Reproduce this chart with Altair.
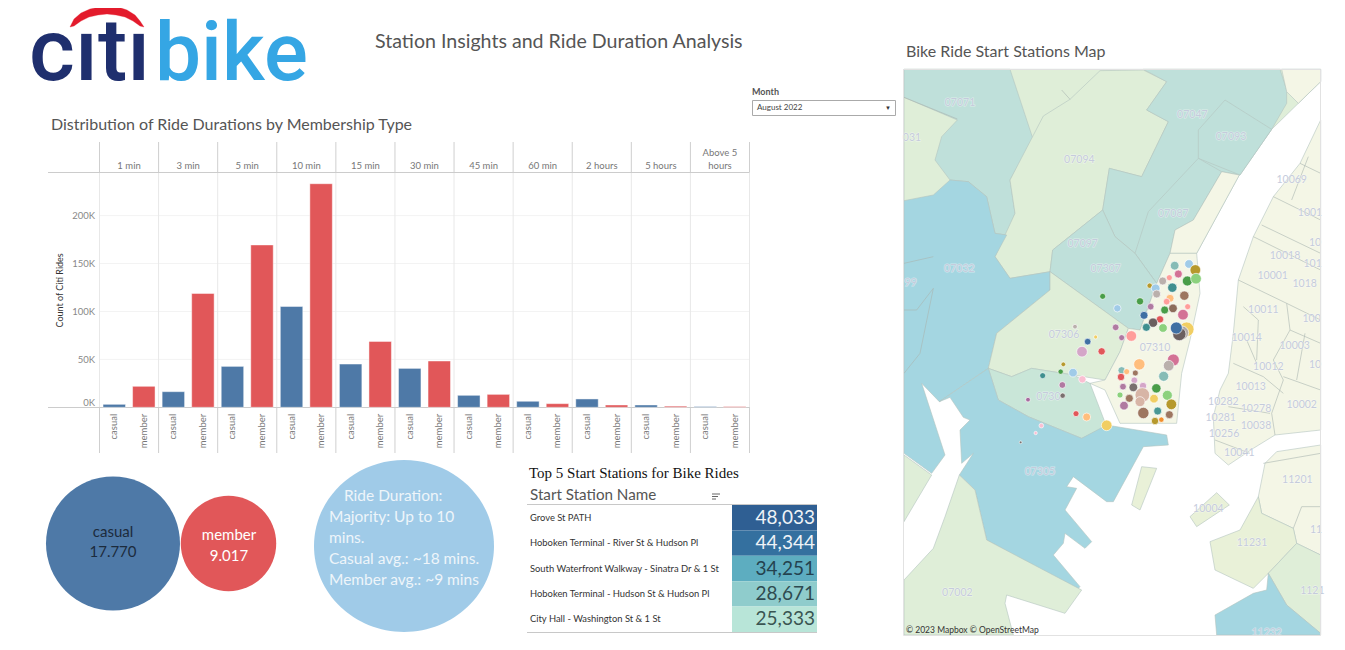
import altair as alt

FONT = "Lato"
W, H = 1329, 634
def px(v): return v - 8
def py(v): return v - 8

# ---- bar chart ----
durations = ["1 min","3 min","5 min","10 min","15 min","30 min","45 min","60 min","2 hours","5 hours","Above 5 hours"]
casual_counts = [3100,16300,42700,105200,45100,40600,12500,6250,8700,2400,800]
member_counts = [21900,118750,169400,233300,68750,48300,13500,3800,2400,1200,800]
y_ticks = [0,50000,100000,150000,200000]

# ---- bubbles ----
bubble_types = ["casual","member"]
bubble_avgs = [17.77,9.017]

# ---- table ----
stations = ["Grove St PATH","Hoboken Terminal - River St & Hudson Pl","South Waterfront Walkway - Sinatra Dr & 1 St",
            "Hoboken Terminal - Hudson St & Hudson Pl","City Hall - Washington St & 1 St"]
station_rides = [48033,44344,34251,28671,25333]
cell_colors = ["#b8e5d8","#8fcccc","#5dadc0","#34709f","#2f5f93"]

# ---- map stations (crop units, 3 per pixel) ----
st_x = [464,507,526,475,502,528,448,428,457,389,407,410,493,450,440,360,248,292,392,503,434,459,489,372,420,399,379,429,500,486,478,469,
        287,305,334,165,227,203,186,245,130,122,159,187,68,127,128,24,168,200,260,64,47,2,
        460,446,358,431,305,320,346,303,343,309,369,340,409,300,442,367,360,402,328,454,312,370,413,448,405,424]
st_y = [47,42,60,72,93,86,83,93,113,107,115,132,137,145,155,154,139,175,170,170,180,175,194,196,208,218,232,234,238,248,252,234,
        232,263,258,230,261,275,305,304,343,365,368,388,377,405,437,449,491,501,526,527,549,577,
        330,347,343,379,361,365,369,381,391,410,408,412,415,435,436,435,455,446,445,463,467,489,483,494,513,509]
st_r = [13,13,16,12,15,16,9,12,14,8,13,12,14,12,10,11,9,11,10,9,12,13,16,12,11,14,12,13,22,20,20,18,
        10,9,16,7,6,10,16,11,7,8,13,11,9,10,8,7,9,12,16,7,5,4,
        18,16,17,15,11,9,9,11,10,10,11,13,14,9,15,22,15,13,12,16,13,17,12,12,11,8]
st_c = ["#86bcb6","#a0cbe8","#b6992d","#d37295","#499d48","#8cd17d","#ff9d9a","#bab0ac","#3f8f8f","#b6992d","#a0cbe8","#bab0ac","#9d7660","#ffbe7d","#ff9d9a","#499d48","#499d48","#a0cbe8","#b07aa1","#ff9d9a","#499d48","#8c6d5a","#d37295","#3f6fa3","#e15759","#6b5f5f","#3f8f8f","#8cd17d","#f1ce63","#b0a8a4","#6b5f5f","#3f6fa3",
        "#b07aa1","#b07aa1","#ff9d9a","#bab0ac","#f1ce63","#3f6fa3","#d4a6c8","#e15759","#b6992d","#499d48","#a0cbe8","#fabfd2","#3f8f8f","#b07aa1","#79706e","#a76b9f","#e15759","#ffbe7d","#f1ce63","#fabfd2","#fabfd2","#79706e",
        "#d37295","#bab0ac","#ffbe7d","#86bcb6","#86bcb6","#ffbe7d","#9d7660","#e15759","#d4a6c8","#b07aa1","#d4a6c8","#79706e","#499d48","#8cd17d","#8cd17d","#d7b5a6","#d7b5a6","#f1ce63","#9d7660","#b6992d","#b07aa1","#9d7660","#499894","#9d7660","#b6992d","#f28e2b"]

# ---- map zones (crop units, 3 per pixel) ----
GREEN, TEAL, BLUE, CREAM, MINT, PALE = "#dfeed8","#bfe0da","#a4d6e1","#f4f6e6","#c9e6d8","#e9f1d8"
zones = [
 (GREEN, [(12,88),(1262,88),(1262,125),(1195,190),(1115,268),(1018,405),(890,640),(810,640),(720,870),(660,930),(300,1000),(12,1000)]),
 (TEAL, [(12,88),(330,88),(400,300),(330,420),(345,520),(320,585),(285,580),(260,470),(205,425),(150,420),(105,360),(125,290),(172,240),(12,172)]),
 (GREEN, [(510,178),(600,92),(730,90),(800,125),(740,210),(805,245),(725,410),(628,385),(608,510),(458,630),(450,695),(330,715),(285,650),(345,520),(330,420),(430,228)]),
 (TEAL, [(730,88),(1140,88),(1160,150),(1160,190),(1115,268),(1020,405),(965,395),(880,540),(825,570),(810,640),(770,730),(705,640),(645,590),(608,510),(628,385),(725,410),(805,245),(740,210),(800,125)]),
 (TEAL, [(895,270),(975,180),(1115,268),(1020,405),(895,355)]),
 (TEAL, [(745,515),(895,355),(965,395),(880,540),(825,570),(810,640),(770,730),(705,640)]),
 (CREAM, [(1145,88),(1262,88),(1262,125),(1195,190),(1160,155)]),
 (CREAM, [(965,395),(1018,405),(890,640),(810,640),(825,570),(880,540)]),
 (TEAL, [(608,510),(645,590),(705,640),(770,730),(720,870),(685,865),(450,695),(458,630)]),
 (BLUE, [(12,482),(100,465),(150,420),(205,425),(260,470),(285,580),(320,585),(285,650),(330,715),(450,695),(450,750),(290,880),(265,985),(118,1085),(65,1030),(135,1245),(95,1300),(12,1240)]),
 (GREEN, [(450,695),(685,865),(660,935),(615,1020),(520,1005),(395,985),(335,1010),(265,985),(290,880),(450,750)]),
 (CREAM, [(810,640),(890,640),(900,760),(870,900),(845,1000),(830,1150),(660,1150),(615,1050),(570,1030),(615,1020),(660,935),(685,865),(720,870),(770,730)]),
 (MINT, [(295,1080),(265,985),(335,1010),(395,985),(520,1005),(570,1030),(620,1160),(545,1195),(385,1130)]),
 (BLUE, [(265,985),(295,1080),(385,1130),(545,1195),(620,1155),(800,1185),(805,1215),(730,1220),(640,1385),(620,1385),(520,1310),(500,1340),(530,1345),(495,1410),(575,1505),(555,1525),(495,1480),(490,1510),(460,1545),(540,1640),(530,1650),(260,1500),(225,1350),(178,1305),(220,1240),(185,1270),(180,1170),(210,1140),(190,1132),(150,1072),(118,1085)]),
 (GREEN, [(12,1245),(95,1305),(12,1445)]),
 (GREEN, [(178,1305),(225,1350),(260,1500),(545,1650),(495,1720),(320,1665),(315,1690),(340,1785),(12,1785),(12,1620),(100,1525),(135,1430)]),
 (CREAM, [(1262,240),(1200,370),(1120,470),(1060,590),(1015,720),(1000,880),(985,1000),(960,1050),(940,1130),(945,1240),(985,1275),(1060,1225),(1125,1185),(1262,1170)]),
 (CREAM, [(1262,1215),(1130,1235),(1095,1270),(1075,1370),(1085,1420),(1180,1465),(1190,1510),(1262,1545)]),
 (PALE, [(1075,1370),(1020,1470),(930,1505),(945,1590),(1060,1645),(1105,1600),(1190,1510),(1180,1465),(1085,1420)]),
 (GREEN, [(1105,1600),(1190,1510),(1262,1545),(1262,1780),(1160,1695)]),
 (BLUE, [(1105,1600),(1160,1695),(1262,1780),(1262,1785),(950,1785),(945,1725),(1060,1660),(1100,1650)]),
 (PALE, [(950,1358),(988,1395),(890,1460),(870,1430)]),
 (PALE, [(725,1280),(770,1285),(720,1410),(695,1395)]),
]
zone_lines = [
 [(1200,370),(1262,400)],[(1120,470),(1262,540)],[(1085,555),(1262,640)],[(1060,590),(1262,690)],
 [(1015,720),(1160,790),(1262,840)],[(1160,790),(1170,870),(1120,960)],[(1000,970),(1090,1010),(1150,1060)],
 [(1120,960),(1150,1020),(1115,1120),(1125,1185)],[(1150,1010),(1262,1050)],[(1040,900),(1070,970)],
 [(1225,350),(1175,480)],[(1170,870),(1262,910)],[(1215,880),(1190,1020)],[(1030,800),(1075,840),(1070,960)],
 [(985,1100),(1110,1120)],[(945,1200),(1050,1240)],
 [(1180,1465),(1205,1400),(1262,1400)],
 [(1090,1270),(1262,1240)],[(12,1000),(60,940),(100,745),(50,810),(12,810)],[(100,650),(12,670)],
 [(485,150),(510,178)],[(12,172),(172,237)],
]
zip_names = ["07071","07047","07093","031","07094","10069","07087","07097","07307","07032","99","10018","10001","1018","10011","10014","07306","07310","10003","10012","10013","10282","10278","10002","10281","10038","10256","10041","07305","11201","10004","11231","07002","0730","1121","11232","1001","10","101","100","10","11"]
zip_x = [180,877,993,36,538,1175,820,548,617,178,32,1155,1118,1214,1090,1040,492,765,1184,1105,1052,970,1068,1205,962,1068,972,1018,420,1192,925,1056,172,445,1237,1100,1230,1245,1238,1235,1245,1248]
zip_y = [190,224,290,295,360,420,522,612,686,688,730,648,707,732,810,893,885,925,918,980,1040,1085,1107,1095,1135,1158,1183,1240,1295,1320,1407,1510,1658,1070,1653,1780,520,608,673,838,975,1470]

# crescent of the logo (page pixels)
arc_outer = [(70,27),(74,19),(81,13),(90,9),(100,7),(108,6),(118,7),(127,10),(135,15),(140,21),(144,27)]
arc_inner = [(140,26),(133,21),(125,17),(116,15),(107,14),(98,15),(89,17),(81,21),(74,26)]

dummy = alt.Data(values=[{"a": 1}])

def label(text, x, y, size, color="#555555", font=FONT, align="left", weight="normal", angle=0, baseline="middle"):
    return alt.Chart(dummy).mark_text(font=font, fontSize=size, color=color, align=align, baseline=baseline,
                                      fontWeight=weight, angle=angle).encode(
        x=alt.value(px(x)), y=alt.value(py(y)), text=alt.value(text))

def hline(x1, x2, y, color="#cccccc", width=1):
    return alt.Chart(dummy).mark_rule(color=color, strokeWidth=width).encode(
        x=alt.value(px(x1)), x2=alt.value(px(x2)), y=alt.value(py(y)))

proj = dict(type="identity", scale=1/3, translate=[900-8, 40-8])
def ring(pts):
    return pts + [pts[0]]
features = [{"type":"Feature","properties":{"c":c},"geometry":{"type":"Polygon","coordinates":[ [list(p) for p in ring(pts)] ]}} for c,pts in zones]
map_fill = alt.Chart(alt.Data(values=features)).mark_geoshape(stroke="#b3c4c0", strokeWidth=0.6).encode(
    color=alt.Color("properties.c:N", scale=None)).project(**proj)
line_features = [{"type":"Feature","properties":{},"geometry":{"type":"LineString","coordinates":[list(p) for p in l]}} for l in zone_lines]
map_lines = alt.Chart(alt.Data(values=line_features)).mark_geoshape(filled=False, stroke="#aab5b0", strokeWidth=0.6).project(**proj)

mx = alt.Scale(domain=[0,1329*3], range=[900-8, 900-8+1329])
my = alt.Scale(domain=[0,634*3], range=[40-8, 40-8+634])
zip_rows = [{"n":n,"x":x,"y":y} for n,x,y in zip(zip_names,zip_x,zip_y)]
map_zip_halo = alt.Chart(alt.Data(values=zip_rows)).mark_text(font=FONT, fontSize=10.5, color="#ffffff", stroke="#ffffff", strokeWidth=1.2, opacity=0.45).encode(
    x=alt.X("x:Q", scale=mx, axis=None), y=alt.Y("y:Q", scale=my, axis=None), text="n:N")
map_zips = alt.Chart(alt.Data(values=zip_rows)).mark_text(font=FONT, fontSize=10.5, color="#c5cbdc").encode(
    x=alt.X("x:Q", scale=mx, axis=None), y=alt.Y("y:Q", scale=my, axis=None), text="n:N")

sx = alt.Scale(domain=[0,600], range=[1020-8, 1220-8])
sy = alt.Scale(domain=[0,600], range=[250-8, 450-8])
st_rows = [{"x":x,"y":y,"s":(2*r/3)**2,"c":c} for x,y,r,c in zip(st_x,st_y,st_r,st_c)]
map_pts = alt.Chart(alt.Data(values=st_rows)).mark_point(filled=True, opacity=1, stroke="#ffffff", strokeWidth=0.8, strokeOpacity=0.8).encode(
    x=alt.X("x:Q", scale=sx, axis=None), y=alt.Y("y:Q", scale=sy, axis=None),
    size=alt.Size("s:Q", scale=None), color=alt.Color("c:N", scale=None))

frame = alt.Chart(dummy).mark_rect(filled=False, stroke="#e2e2e2", strokeWidth=1).encode(
    x=alt.value(px(903.5)), x2=alt.value(px(1320.5)), y=alt.value(py(69.5)), y2=alt.value(py(635.5)))

# logo: the crescent shares the map's projection, so its points go to map units
crescent_pts = [[(x-900)*3, (y-40)*3] for x,y in ring(arc_outer+arc_inner)]
crescent = alt.Chart(alt.Data(values=[{"type":"Feature","properties":{},"geometry":{"type":"Polygon","coordinates":[crescent_pts]}}])).mark_geoshape(
    fill="#e31b2c", stroke="#e31b2c", strokeWidth=0.3).project(**proj)

# bars
keys = [f"{d}|{m}" for d in durations for m in bubble_types]
rows = []
for d,c,m in zip(durations,casual_counts,member_counts):
    rows.append({"k":f"{d}|casual","t":"casual","v":c})
    rows.append({"k":f"{d}|member","t":"member","v":m})
bar_y = alt.Scale(domain=[0,245000], range=[py(407.3), py(172.5)], nice=False)
bar_x = alt.Scale(domain=keys, range=[px(99.5), px(749.5)], paddingInner=0.24, paddingOuter=0.12)
grid = alt.Chart(alt.Data(values=[{"v":v} for v in y_ticks[1:]])).mark_rule(color="#f3f3f3").encode(
    y=alt.Y("v:Q", scale=bar_y, axis=None), x=alt.value(px(99.5)), x2=alt.value(px(749.5)))
bars = alt.Chart(alt.Data(values=rows)).mark_bar(stroke="#ffffff", strokeWidth=1, strokeOpacity=0.45).encode(
    x=alt.X("k:N", scale=bar_x, sort=keys, title=None, axis=alt.Axis(
        offset=py(407.3)-H+1, labelAngle=270, labelAlign="right", labelBaseline="middle", labelPadding=5,
        labelExpr="split(datum.label,'|')[1]", labelFontSize=9.5, labelColor="#777777", labelFont=FONT,
        ticks=False, domain=False, labelOverlap=False, grid=False)),
    y=alt.Y("v:Q", scale=bar_y, title="Count of Citi Rides", axis=alt.Axis(
        offset=-px(99.5), values=y_ticks, labelExpr="(datum.value/1000)+'K'", labelFontSize=9.5, labelColor="#888888",
        labelFont=FONT, labelPadding=5, ticks=False, domain=False, grid=False, labelBaseline=alt.expr("datum.value==0?'bottom':'middle'"),
        titleFont=FONT, titleFontSize=9, titleFontWeight="normal", titleColor="#333333", titlePadding=7)),
    color=alt.Color("t:N", scale=alt.Scale(domain=bubble_types, range=["#4e79a7","#e15759"]), legend=None))
panel_idx = alt.Scale(domain=[0,11], range=[px(99.5), px(749.5)])
idx_rows = alt.Data(values=[{"i":i} for i in range(12)])
v_top = alt.Chart(idx_rows).mark_rule(color="#cfcfcf").encode(x=alt.X("i:Q", scale=panel_idx, axis=None), y=alt.value(py(142)), y2=alt.value(py(172)))
v_mid = alt.Chart(idx_rows).mark_rule(color="#e8e8e8").encode(x=alt.X("i:Q", scale=panel_idx, axis=None), y=alt.value(py(172)), y2=alt.value(py(407)))
v_bot = alt.Chart(idx_rows).mark_rule(color="#cfcfcf").encode(x=alt.X("i:Q", scale=panel_idx, axis=None), y=alt.value(py(407)), y2=alt.value(py(453)))
hdr_x = alt.Scale(domain=durations, range=[px(99.5), px(749.5)], paddingInner=0, paddingOuter=0)
hdr_rows = [{"d":d,"t":d,"l":0} for d in durations[:-1]] + [{"d":durations[-1],"t":"Above 5","l":1},{"d":durations[-1],"t":"hours","l":0}]
headers = alt.Chart(alt.Data(values=hdr_rows)).mark_text(font=FONT, fontSize=9.5, color="#777777").encode(
    x=alt.X("d:N", scale=hdr_x, sort=durations, axis=None),
    y=alt.Y("l:Q", scale=alt.Scale(domain=[0,1], range=[py(165.7), py(152.7)]), axis=None), text="t:N")

# bubbles
bubble_rows = [{"t":t,"a":a} for t,a in zip(bubble_types,bubble_avgs)]
bub_x = alt.Scale(domain=bubble_types, range=[px(113), px(228.5)], type="point", padding=0)
bubbles = alt.Chart(alt.Data(values=bubble_rows)).mark_point(filled=True, opacity=1, shape="circle").encode(
    x=alt.X("t:N", scale=bub_x, axis=None), y=alt.value(py(543.5)),
    size=alt.Size("a:Q", scale=alt.Scale(domain=[0,17.77], range=[0,134**2]), legend=None),
    color=alt.Color("t:N", scale=alt.Scale(domain=bubble_types, range=["#4e79a7","#e15759"]), legend=None))
ellipse = alt.Chart(dummy).mark_point(filled=True, opacity=1, color="#a0cbe8",
    shape="M -1 0 A 1 0.955 0 1 0 1 0 A 1 0.955 0 1 0 -1 0 Z", size=180**2).encode(x=alt.value(px(404)), y=alt.value(py(546)))

# table
tbl_rows = [{"s":s,"v":v,"f":f"{v:,}"} for s,v in zip(stations,station_rides)]
tbl_y = alt.Scale(domain=stations, range=[py(505), py(632)], paddingInner=0, paddingOuter=0)
cells = alt.Chart(alt.Data(values=tbl_rows)).mark_rect().encode(
    y=alt.Y("s:N", scale=tbl_y, sort=stations, axis=None), x=alt.value(px(732)), x2=alt.value(px(817)),
    color=alt.Color("v:Q", scale=alt.Scale(domain=sorted(station_rides), range=cell_colors), legend=None))
cell_text = alt.Chart(alt.Data(values=tbl_rows)).mark_text(font=FONT, fontSize=19, align="right").encode(
    y=alt.Y("s:N", scale=tbl_y, sort=stations, axis=None), x=alt.value(px(815)), text="f:N",
    color=alt.Color("s:N", scale=alt.Scale(domain=stations, range=["#eef3f7","#eef3f7","#24424f","#2e4a50","#3a5552"]), legend=None))
row_text = alt.Chart(alt.Data(values=tbl_rows)).mark_text(font=FONT, fontSize=9.4, align="left", color="#333333").encode(
    y=alt.Y("s:N", scale=tbl_y, sort=stations, axis=None), x=alt.value(px(530)), text="s:N")

month_box = alt.Chart(dummy).mark_rect(filled=False, stroke="#aaaaaa", strokeWidth=1).encode(
    x=alt.value(px(752.5)), x2=alt.value(px(895.5)), y=alt.value(py(100.5)), y2=alt.value(py(115.5)))

layers = [
    map_fill, map_lines, map_zip_halo, map_zips, map_pts, frame,
    label("© 2023 Mapbox  © OpenStreetMap", 906, 630, 8.5, "#333333"),
    crescent,
    label("cıtı", 29, 80, 88, "#1f2f6e", font="Roboto", weight=500, baseline="alphabetic"),
    label("bike", 155, 80, 82, "#35a6e4", font="Roboto", weight=500, baseline="alphabetic"),
    label("Station Insights and Ride Duration Analysis", 375, 42, 19.6),
    label("Distribution of Ride Durations by Membership Type", 51, 124.5, 16),
    label("Bike Ride Start Stations Map", 906, 52, 16),
    label("Month", 752, 92, 9, "#555555", weight=700),
    month_box,
    label("August 2022", 757, 108, 8, "#444444"),
    label("▼", 888, 108, 6, "#333333", align="center"),
    grid, v_top, v_mid, v_bot, hline(48,749.5,172.5), hline(48,749.5,407.5), headers, bars,
    bubbles, ellipse,
    label("casual", 113, 532, 15, "#1c2b3c", align="center"),
    label("17.770", 113, 552, 15, "#1c2b3c", align="center"),
    label("member", 229, 535, 15, "#ffffff", align="center"),
    label("9.017", 229, 556, 15, "#ffffff", align="center"),
    label("Ride Duration:", 344, 496, 15.5, "#eef5fa"),
    label("Majority: Up to 10", 329, 517, 15.5, "#eef5fa"),
    label("mins.", 329, 538, 15.5, "#eef5fa"),
    label("Casual avg.: ~18 mins.", 329, 559, 15.5, "#eef5fa"),
    label("Member avg.: ~9 mins", 329, 580, 15.5, "#eef5fa"),
    label("Top 5 Start Stations for Bike Rides", 529, 473, 15, "#111111", font="Liberation Serif"),
    label("Start Station Name", 530, 495, 15.2, "#555555"),
    hline(712,720,494,"#666666"), hline(712,718,496.5,"#666666"), hline(712,716,499,"#666666"),
    hline(527,817,504.5,"#c8c8c8"), hline(527,817,632.5,"#c8c8c8"),
    cells, cell_text, row_text,
]

chart = alt.layer(*layers).resolve_scale(
    x="independent", y="independent", color="independent", size="independent").properties(
    width=W, height=H, padding=0, autosize=alt.AutoSizeParams(type="none"), background="#ffffff"
).configure_view(stroke=None)

chart.save("out.html", embed_options={"renderer": "svg", "actions": False})
